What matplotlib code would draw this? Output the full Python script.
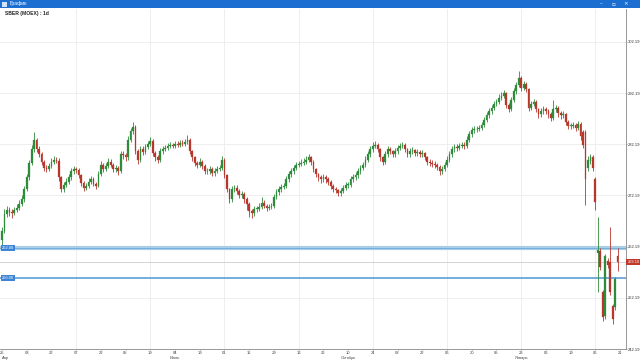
import matplotlib
matplotlib.use("Agg")
import matplotlib.pyplot as plt
from matplotlib.patches import Rectangle
import matplotlib.transforms as mtrans

plt.rcParams['font.family'] = ['Liberation Sans', 'DejaVu Sans']

# ---------------- data ----------------
opens = [263.4,265.2,268.5,269.4,268.9,268.7,269.4,269.8,270.6,271.4,
273.4,275.7,278.6,281.2,283.1,281.2,280.2,278.8,277.6,277.4,
278.0,278.8,279.2,279.0,275.7,273.4,274.3,274.9,275.7,276.9,
277.3,277.1,276.1,274.7,273.7,274.1,274.9,275.3,274.5,274.1,
276.3,278.2,277.3,278.0,278.8,278.2,277.3,277.6,276.9,280.2,
280.0,279.6,283.1,284.7,285.6,280.8,279.2,281.2,280.6,281.7,
282.3,282.9,280.4,279.6,279.2,280.8,281.2,281.5,281.9,282.1,
281.9,282.3,282.1,282.5,282.3,282.7,283.1,280.8,279.6,278.6,
278.2,278.8,278.0,276.9,276.9,277.3,276.5,276.9,277.3,277.6,
279.2,276.1,273.4,271.4,273.4,273.7,273.0,272.2,272.4,271.4,
270.6,269.1,268.7,269.5,269.6,270.0,270.8,270.2,269.8,270.0,
270.2,271.8,272.8,273.4,273.9,274.1,275.3,276.3,276.9,277.6,
278.2,278.4,278.6,278.8,279.2,279.6,278.8,277.3,276.3,275.7,
275.3,275.7,275.3,274.9,274.1,273.5,273.2,272.6,273.0,273.7,
274.3,274.3,275.3,275.7,276.1,276.9,277.6,278.2,279.2,280.2,
281.2,281.9,282.1,281.2,279.6,278.8,280.2,281.2,280.8,280.2,
280.8,281.5,281.9,282.1,281.2,280.2,280.8,281.0,280.4,280.6,
280.2,280.4,279.6,278.8,278.6,278.4,278.2,277.8,276.9,277.3,
278.2,279.2,280.2,281.2,281.7,281.5,281.9,282.1,281.9,283.1,
284.1,284.9,285.1,285.2,285.4,286.0,287.0,287.8,288.6,289.3,
290.1,290.5,291.3,291.7,292.1,289.9,289.0,290.9,292.5,293.8,
295.2,293.2,294.0,292.9,289.3,290.1,290.5,289.0,288.0,288.6,
289.0,288.6,288.0,287.4,289.0,289.3,288.2,287.8,288.0,286.6,
285.8,285.8,286.0,285.4,286.2,284.5,284.6,277.6,279.0,279.6,
275.3,261.0,261.4,253.4,248.6,259.3,259.1,250.5,250.3,260.3]

closes = [265.2,268.5,269.4,268.9,268.7,269.4,269.8,270.6,271.4,273.4,
275.7,278.6,281.2,283.1,281.2,280.2,278.8,277.6,277.4,278.0,
278.8,279.2,279.0,275.7,273.4,274.3,274.9,275.7,276.9,277.3,
277.1,276.1,274.7,273.7,274.1,274.9,275.3,274.5,274.1,276.3,
278.2,277.3,278.0,278.8,278.2,277.3,277.6,276.9,280.2,280.0,
279.6,283.1,284.7,285.6,280.8,279.2,281.2,280.6,281.7,282.3,
282.9,280.4,279.6,279.2,280.8,281.2,281.5,281.9,282.1,281.9,
282.3,282.1,282.5,282.3,282.7,283.1,280.8,279.6,278.6,278.2,
278.8,278.0,276.9,276.9,277.3,276.5,276.9,277.3,277.6,279.2,
276.1,273.4,271.4,273.4,273.7,273.0,272.2,272.4,271.4,270.6,
269.1,268.7,269.5,269.6,270.0,270.8,270.2,269.8,270.0,270.2,
271.8,272.8,273.4,273.9,274.1,275.3,276.3,276.9,277.6,278.2,
278.4,278.6,278.8,279.2,279.6,278.8,277.3,276.3,275.7,275.3,
275.7,275.3,274.9,274.1,273.5,273.2,272.6,273.0,273.7,274.3,
274.3,275.3,275.7,276.1,276.9,277.6,278.2,279.2,280.2,281.2,
281.9,282.1,281.2,279.6,278.8,280.2,281.2,280.8,280.2,280.8,
281.5,281.9,282.1,281.2,280.2,280.8,281.0,280.4,280.6,280.2,
280.4,279.6,278.8,278.6,278.4,278.2,277.8,276.9,277.3,278.2,
279.2,280.2,281.2,281.7,281.5,281.9,282.1,281.9,283.1,284.1,
284.9,285.1,285.2,285.4,286.0,287.0,287.8,288.6,289.3,290.1,
290.5,291.3,291.7,292.1,289.9,289.0,290.9,292.5,293.8,295.2,
293.2,294.0,292.9,289.3,290.1,290.5,289.0,288.0,288.6,289.0,
288.6,288.0,287.4,289.0,289.3,288.2,287.8,288.0,286.6,285.8,
285.8,286.0,285.4,286.2,283.7,282.1,275.3,279.2,279.6,277.6,
271.0,261.6,258.3,248.4,260.3,258.5,253.3,248.0,255.8,259.1]

highs = [266.0,269.6,270.2,269.9,269.5,270.0,270.5,271.3,272.2,274.0,
276.3,279.2,282.0,284.6,283.5,281.8,280.6,279.2,278.1,278.5,
279.4,279.8,279.7,279.4,276.0,274.9,275.5,276.4,277.5,277.9,
277.8,277.5,276.4,275.0,274.7,275.5,276.0,275.8,274.9,276.9,
278.9,278.6,278.6,279.4,279.3,278.6,278.2,278.0,280.9,280.8,
280.5,283.7,285.4,286.6,285.9,281.2,281.9,281.8,282.3,282.9,
283.6,283.2,280.8,280.0,281.4,281.8,282.1,282.4,282.7,282.5,
282.9,282.8,283.0,283.0,283.2,284.0,283.4,281.1,279.9,279.0,
279.4,279.1,278.3,277.5,277.9,277.7,277.5,277.9,278.2,279.8,
279.5,276.4,273.7,274.0,274.3,274.2,273.4,273.0,272.8,271.8,
271.0,269.6,270.1,270.2,270.7,271.9,271.2,270.6,270.6,270.8,
272.4,273.4,274.0,274.5,274.7,275.9,276.9,277.5,278.2,278.8,
279.0,279.3,279.4,279.8,280.2,279.9,279.1,277.6,276.6,276.1,
276.3,276.2,275.8,275.2,274.4,273.9,273.5,273.6,274.3,274.9,
274.9,275.9,276.3,276.7,277.5,278.2,278.8,279.8,280.8,281.9,
282.6,282.8,282.5,281.5,279.9,280.8,281.8,281.7,281.1,281.4,
282.1,282.5,282.7,282.4,281.5,281.4,281.6,281.3,281.2,281.0,
281.0,280.7,279.9,279.3,279.1,278.9,278.6,278.1,277.9,278.8,
279.8,280.8,281.8,282.3,282.2,282.5,282.7,282.6,283.7,284.7,
285.5,285.7,285.8,286.0,286.6,287.6,288.4,289.2,289.9,290.7,
291.1,291.9,292.3,292.8,292.4,290.3,291.5,293.1,294.4,296.4,
295.5,294.6,294.4,293.2,290.7,291.1,290.9,289.3,289.2,289.6,
289.4,289.0,288.4,290.8,289.9,289.6,288.6,288.6,288.3,286.9,
286.4,286.6,286.3,286.8,286.5,284.9,285.0,279.8,280.2,280.0,
275.7,267.9,262.0,253.8,260.8,260.0,266.0,251.0,256.3,262.0]

lows = [262.6,264.8,267.9,268.2,267.8,268.3,268.9,269.4,270.1,271.0,
273.0,275.2,278.2,280.7,280.6,279.6,278.1,277.0,276.8,276.9,
277.6,278.4,278.5,275.1,272.8,272.9,273.8,274.4,275.2,276.4,
276.5,275.6,274.1,273.1,273.2,273.7,274.4,274.0,273.4,273.8,
275.9,276.7,276.9,277.5,277.7,276.8,276.7,276.2,276.5,279.3,
279.0,279.2,282.6,284.2,280.2,278.4,278.8,280.0,280.2,281.3,
281.9,279.9,279.0,278.5,278.8,280.3,280.8,281.0,281.4,281.4,
281.5,281.6,281.7,281.8,281.9,282.2,280.2,279.0,277.9,277.6,
277.8,277.4,276.3,276.3,276.4,276.0,276.0,276.5,276.9,277.2,
275.6,272.8,270.8,271.0,272.9,272.4,271.6,271.7,270.8,269.4,
268.0,267.8,268.2,269.0,269.2,269.6,269.7,269.2,269.3,269.5,
269.8,271.4,272.3,272.9,273.4,273.7,274.9,275.8,276.4,277.1,
277.7,277.9,278.1,278.3,278.7,278.2,276.7,275.7,275.1,274.7,
274.8,274.7,274.3,273.5,272.9,272.6,272.0,272.1,272.6,273.2,
273.7,273.8,274.8,275.2,275.6,276.4,277.1,277.7,278.7,279.7,
280.7,281.4,280.6,279.0,278.1,278.4,279.7,280.2,279.6,279.7,
280.3,281.0,281.4,280.6,279.6,279.7,280.3,279.8,279.9,279.6,
279.7,279.1,278.2,278.0,277.8,277.6,277.2,276.2,276.4,276.9,
277.7,278.8,279.7,280.7,280.9,281.0,281.4,281.3,281.5,282.6,
283.6,284.4,284.6,284.7,284.9,285.5,286.5,287.3,288.1,288.8,
289.6,290.0,290.8,291.2,289.3,288.4,288.6,290.4,292.0,293.3,
292.6,292.7,292.3,288.7,288.8,289.6,288.4,287.4,287.5,288.1,
288.0,287.4,286.8,287.0,288.5,287.6,287.2,287.3,286.0,285.2,
285.2,285.3,284.8,284.9,283.1,281.5,270.4,277.0,278.4,277.0,
269.4,253.4,257.6,247.6,248.0,258.0,252.8,247.0,249.8,257.5]

xtick_labels = ["25","08","22","07","22","05","19","04","19","01","15","29","13",
                "26","10","24","08","22","06","20","05","23","06","19","06","21"]
month_labels = ["Апр", "Июль", "Октябрь", "Январь"]
month_positions = [0, 70, 140, 210]
price_ticks = [242.19, 252.19, 262.19, 272.19, 282.19, 292.19, 302.19]
level_lines = [262.0, 256.0]
last_price = closes[-1]

# ---------------- figure ----------------
W, H = 640, 360
fig = plt.figure(figsize=(W / 100, H / 100), dpi=100, facecolor="white")

def fx(px):
    return px / W

def fy(py):
    return 1 - py / H

# title bar
fig.patches.append(Rectangle((0, fy(8)), 1, 8 / H, transform=fig.transFigure,
                             facecolor="#1c6fd1", edgecolor="none", zorder=0))
fig.patches.append(Rectangle((fx(2), fy(6.5)), 5 / W, 5 / H, transform=fig.transFigure,
                             facecolor="#cfe3fa", edgecolor="none", zorder=1))
fig.text(fx(10), fy(4), "График", color="white", fontsize=3.6, va="center", ha="left")
for px, s in [(601, "–"), (613, "▫"), (626, "×")]:
    fig.text(fx(px), fy(4), s, color="white", fontsize=4, va="center", ha="center",
             family="DejaVu Sans")

ax = fig.add_axes([0, fy(349), fx(626), (349 - 9) / H])
ax.set_facecolor("white")

n = len(closes)
idx = list(range(n))
up = [c >= o for o, c in zip(opens, closes)]
green = "#2e8b3a"
red = "#b8372d"
colors = [green if u else red for u in up]

ax.vlines(idx, lows, highs, colors=colors, linewidth=0.6, zorder=3)
bottoms = [min(o, c) for o, c in zip(opens, closes)]
heights = [max(abs(c - o), 0.15) for o, c in zip(opens, closes)]
ax.bar(idx, heights, bottom=bottoms, width=0.7, color=colors, edgecolor=colors,
       linewidth=0.2, zorder=4)

ax.set_xlim(-0.8, 252.4)
ax.set_ylim(242.35, 308.6)

# grid
ax.set_yticks(price_ticks)
ax.set_yticklabels([f"{v:.2f}" for v in price_ticks])
ax.yaxis.tick_right()
ax.set_xticks(list(range(0, 10 * len(xtick_labels), 10)))
ax.set_xticklabels(xtick_labels)
for v in price_ticks:
    ax.axhline(v, color="#ebebeb", linewidth=0.6, zorder=1)
for k in range(30, 250, 30):
    ax.axvline(k, color="#ebebeb", linewidth=0.6, zorder=1)

ax.tick_params(axis="both", labelsize=3.0, colors="#666666", length=1.0, width=0.4, pad=0.4)
ax.tick_params(axis="y", labelcolor="#333333")
ax.tick_params(axis="x", labelcolor="#444444")
for side in ["top", "left"]:
    ax.spines[side].set_visible(False)
ax.spines["right"].set_color("#888888")
ax.spines["bottom"].set_color("#888888")
ax.spines["right"].set_linewidth(0.6)
ax.spines["bottom"].set_linewidth(0.6)

# month labels
trans = mtrans.blended_transform_factory(ax.transData, fig.transFigure)
for m, p in zip(month_labels, month_positions):
    ax.text(p, fy(358.2), m, transform=trans, fontsize=2.9, color="#444444",
            ha="left" if p == 0 else "center", va="center", clip_on=False)

# level lines
ax.axhline(level_lines[0], color="#a9cfe8", linewidth=3.0, zorder=2)
ax.axhline(level_lines[0], color="#6aaad8", linewidth=0.6, zorder=2)
ax.axhline(level_lines[1], color="#5a9fd4", linewidth=1.2, zorder=2)
ax.axhline(last_price, color="#cccccc", linewidth=0.6, zorder=2)

ltrans = mtrans.blended_transform_factory(fig.transFigure, ax.transData)
for v in level_lines:
    ax.text(fx(2), v, f"{v:.2f}", transform=ltrans, fontsize=2.9, color="white",
            ha="left", va="center", zorder=6, clip_on=False,
            bbox=dict(boxstyle="square,pad=0.25", facecolor="#3b84d6", edgecolor="none"))

ax.text(fx(627.5), last_price, f"{last_price:.2f}", transform=ltrans, fontsize=2.9,
        color="white", ha="left", va="center", zorder=6, clip_on=False,
        bbox=dict(boxstyle="square,pad=0.25", facecolor="#c0392b", edgecolor="none"))

fig.text(fx(5), fy(13.5), "SBER (MOEX) : 1d", fontsize=3.6, fontweight="bold",
         color="#222222", ha="left", va="center")

fig.savefig("out.png", dpi=100, facecolor="white")
